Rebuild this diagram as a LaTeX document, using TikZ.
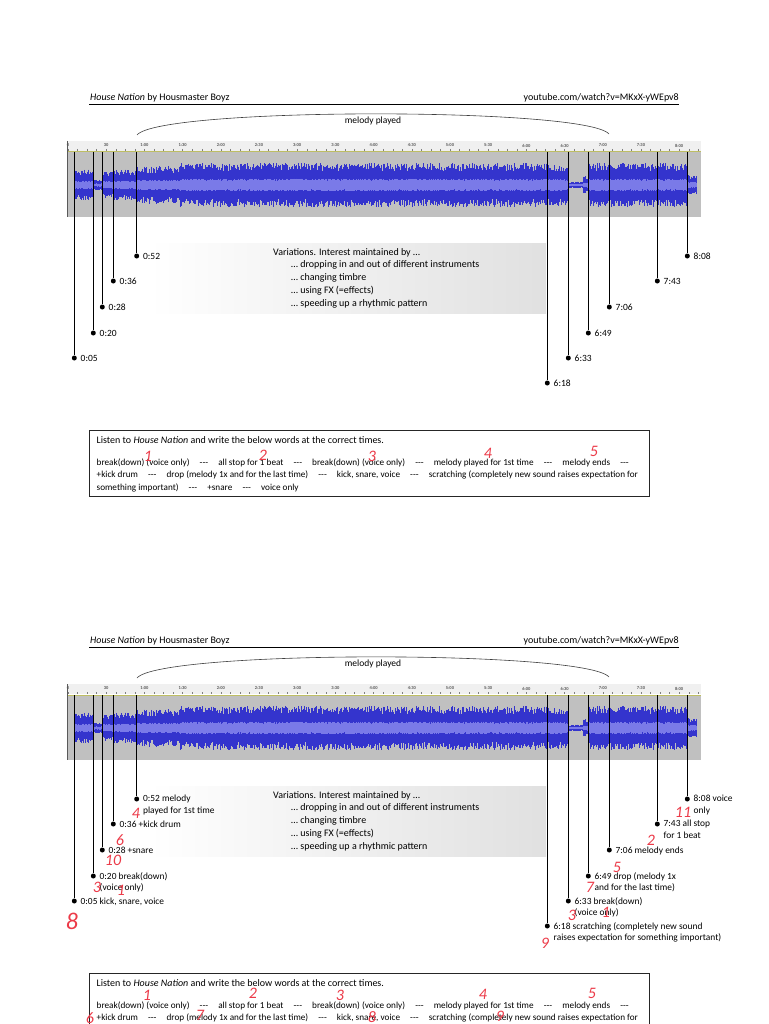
\documentclass[tikz,border=0pt]{standalone}
\usepackage{fontspec}
\setmainfont{Carlito}
\usepackage{tikz}
\usetikzlibrary{positioning}
\definecolor{wavedark}{RGB}{52,52,205}
\definecolor{wavelight}{RGB}{122,122,232}
\definecolor{trackgrey}{RGB}{192,192,192}
\definecolor{rulerbg}{RGB}{240,240,240}
\definecolor{trackline}{RGB}{190,190,100}
\definecolor{pen}{RGB}{236,58,72}

\newcommand{\housesheet}{%
  \node[lbl, font=\fontsize{10}{12}\selectfont] (title) at (90,93.5) {\textit{House Nation} by Housmaster Boyz};
  \node[lbl, anchor=north east, font=\fontsize{10}{12}\selectfont] (url) at (679,93.5) {youtube.com/watch?v=MKxX-yWEpv8};
  \draw[line width=0.9pt] (89,104) -- (679,104);
  \coordinate (arcL) at (137,135);
  \coordinate (arcR) at (609,134);
  \draw[arcline] (arcL) .. controls (160,107) and (586,107) .. (arcR);
  \node[lbl, anchor=north] (melody) at (373,116.5) {melody played};
  \fill[rulerbg] (67,141) rectangle (701,151);
  \foreach \k in {0,...,66}
    \draw[gray] ({68+38.2/4*\k},149) -- ++(0,2);
  \foreach \k/\t in {0/0,1/30,2/1:00,3/1:30,4/2:00,5/2:30,6/3:00,7/3:30,8/4:00,
                     9/4:30,10/5:00,11/5:30,12/6:00,13/6:30,14/7:00,15/7:30,16/8:00}
    \node[ruler] at ({68+38.2*\k},145.5) {\t};
  \fill[trackgrey] (67,151.5) rectangle (701,217);
  \draw[trackline, line width=1pt] (67,152) -- (701,152);
  \draw[gray!70!black, line width=0.5pt] (67,141) -- (67,217);
  \pgfmathsetseed{42}
  \foreach \a/\b/\amp in {74/93/14, 93/102/5, 102/113/12, 113/137/14, 137/180/17,
                          180/547/20, 547/568/19, 568/583/3, 583/588/8, 588/687/20, 687/697/9}{
    \pgfmathtruncatemacro\n{(\b-\a)/0.7}
    \foreach \i in {0,...,\n}{
      \pgfmathsetmacro\xx{\a+0.7*\i}
      \pgfmathsetmacro\up{\amp*(0.7+0.4*rnd)}
      \pgfmathsetmacro\dn{\amp*(0.7+0.4*rnd)}
      \draw[wavedark, line width=0.8pt] (\xx,185-\up) -- (\xx,185+\dn);
      \pgfmathsetmacro\up{\amp*(0.22+0.1*rnd)}
      \pgfmathsetmacro\dn{\amp*(0.22+0.1*rnd)}
      \draw[wavelight, line width=0.8pt] (\xx,185-\up) -- (\xx,185+\dn);
    }
  }
  \shade[left color=white, right color=gray!24] (149,243) rectangle (546,313);
  \node[lbl, font=\fontsize{10}{13}\selectfont] (vari) at (273,248) {Variations. Interest maintained by …};
  \node[lbl, font=\fontsize{10}{13}\selectfont] (ways) at (291,260.5)
    {… dropping in and out of different instruments\\
     … changing timbre\\
     … using FX (=effects)\\
     … speeding up a rhythmic pattern};
  \draw[line width=0.9pt, black!85] (89.5,430) rectangle (649,496);
  \node[lbl, font=\fontsize{10}{12}\selectfont] (listen) at (96.5,436) {Listen to \textit{House Nation} and write the below words at the correct times.};
  \node[lbl, font=\fontsize{9.2}{12.5}\selectfont] (words) at (96.5,458.5)
    {break(down) (voice only)\sep all stop for 1 beat\sep break(down) (voice only)\sep
     melody played for 1st time\sep melody ends\sep\\
     +kick drum\sep drop (melody 1x and for the last time)\sep kick, snare, voice\sep
     scratching (completely new sound raises expectation for\\
     something important)\sep +snare\sep voice only};
}
\newcommand{\sep}{\hspace{1.1em}\mbox{-}\mbox{-}\mbox{-}\hspace{1.1em}}

\begin{document}
\begin{tikzpicture}[x=1pt, y=-1pt,
    lbl/.style={font=\fontsize{9.5}{12.5}\selectfont, inner sep=0pt, align=left,
      anchor=north west, execute at begin node={\rule{0pt}{7pt}}},
    ruler/.style={font=\fontsize{4.5}{5}\selectfont\bfseries, text=black!65, inner sep=0pt},
    arcline/.style={line width=0.6pt, black!75},
    dot/.style={circle, fill=black, inner sep=0pt, minimum size=5pt},
    drop/.style={line width=1.1pt},
    hand/.style={font=\fontsize{16}{16}\selectfont\itshape, text=pen, inner sep=0pt}]
  \path[use as bounding box] (0,0) rectangle (768,1024);
  \clip (0,0) rectangle (768,1024);
  \fill[white] (0,0) rectangle (768,1024);

  \begin{scope}[name prefix=a-]
    \housesheet
    \foreach \n/\x/\y/\t in {t05/74.3/358/0:05, t20/93.3/333/0:20, t28/102.3/307/0:28,
        t36/113.3/281/0:36, t52/136.7/256/0:52, t618/547.3/383/6:18, t633/568.3/358/6:33,
        t649/588.3/333/6:49, t706/609.3/307/7:06, t743/657.3/281/7:43, t808/687.3/256/8:08}{
      \coordinate (\n-top) at (\x,152);
      \node[dot] (\n) at (\x,\y) {};
      \draw[drop] (\n-top) -- (\n);
      \node[lbl] (\n-lbl) at ([xshift=3.5pt,yshift=4pt]\n.east) {\t};
    }
    \node[hand] (h1) at (148,456) {1};
    \node[hand] (h2) at (263,455) {2};
    \node[hand] (h3) at (372,456) {3};
    \node[hand] (h4) at (488,453) {4};
    \node[hand] (h5) at (594,451) {5};
  \end{scope}

  \begin{scope}[shift={(0,543)}, name prefix=b-]
    \housesheet
    \foreach \n/\x/\y/\t in {t05/74.3/358/{0:05 kick, snare, voice},
        t20/93.3/333/{0:20 break(down)\\(voice only)},
        t28/102.3/307/{0:28 +snare},
        t36/113.3/281/{0:36 +kick drum},
        t52/136.7/256/{0:52 melody\\played for 1st time},
        t618/547.3/383/{6:18 scratching (completely new sound\\raises expectation for something important)},
        t633/568.3/358/{6:33 break(down)\\(voice only)},
        t649/588.3/333/{6:49 drop (melody 1x\\and for the last time)},
        t706/609.3/307/{7:06 melody ends},
        t743/657.3/281/{7:43 all stop\\for 1 beat},
        t808/687.3/256/{8:08 voice\\only}}{
      \coordinate (\n-top) at (\x,152);
      \node[dot] (\n) at (\x,\y) {};
      \draw[drop] (\n-top) -- (\n);
      \node[lbl, font=\fontsize{9.4}{11.7}\selectfont] (\n-lbl) at ([xshift=3.5pt,yshift=4pt]\n.east) {\t};
    }
    \node[hand] (g4) at (136,270) {4};
    \node[hand] (g6) at (120,297) {6};
    \node[hand] (g10) at (113,317) {10};
    \node[hand] (g3a) at (97,344) {3};
    \node[hand] (g1a) at (121,347) {1};
    \node[hand, font=\fontsize{24}{24}\selectfont\itshape] (g8) at (72,378) {8};
    \node[hand] (g11) at (683,269) {11};
    \node[hand] (g2) at (651,297) {2};
    \node[hand] (g5) at (617,324) {5};
    \node[hand] (g7) at (590,344) {7};
    \node[hand] (g3b) at (572,372) {3};
    \node[hand] (g1b) at (606,369) {1};
    \node[hand] (g9) at (545,400) {9};
    \node[hand] (k1) at (147,452) {1};
    \node[hand] (k2) at (253,450) {2};
    \node[hand] (k3) at (340,452) {3};
    \node[hand] (k4) at (483,451) {4};
    \node[hand] (k5) at (592,450) {5};
    \node[hand] (k6) at (90,475) {6};
    \node[hand] (k7) at (200,472) {7};
    \node[hand] (k8) at (372,474) {8};
    \node[hand] (k9) at (500,473) {9};
  \end{scope}
\end{tikzpicture}
\end{document}
